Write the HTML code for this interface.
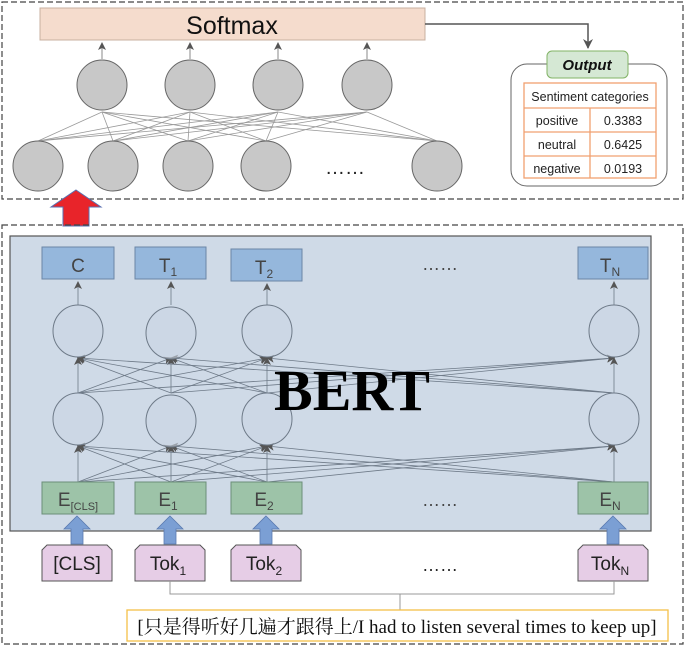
<!DOCTYPE html>
<html><head><meta charset="utf-8"><style>
html,body{margin:0;padding:0;background:#fff}
svg{display:block}
text{font-family:"Liberation Sans","DejaVu Sans",sans-serif}
</style></head><body>
<svg width="685" height="647" viewBox="0 0 685 647" xmlns="http://www.w3.org/2000/svg">
<defs>
<marker id="ah" markerWidth="8" markerHeight="8" refX="7" refY="4" orient="auto" markerUnits="userSpaceOnUse"><path d="M0,0 L8,4 L0,8 L2,4 z" fill="#555"/></marker>
<marker id="ah2" markerWidth="10" markerHeight="10" refX="9" refY="5" orient="auto" markerUnits="userSpaceOnUse"><path d="M0,0 L10,5 L0,10 L3,5 z" fill="#555"/></marker>
</defs>
<!-- top dashed box -->
<rect x="2" y="2" width="681" height="197" fill="none" stroke="#444" stroke-dasharray="6,3" stroke-width="1.2"/>
<rect x="40" y="8" width="385" height="32" fill="#f5dccd" stroke="#c8b0a0"/>
<text x="232" y="34" font-size="25" text-anchor="middle" fill="#111">Softmax</text>
<path d="M425,24 H588 V48" fill="none" stroke="#555" stroke-width="1.5" marker-end="url(#ah2)"/>
<g stroke="#999" stroke-width="0.8">
<line x1="38" y1="141" x2="102" y2="112"/><line x1="38" y1="141" x2="190" y2="112"/><line x1="38" y1="141" x2="278" y2="112"/><line x1="38" y1="141" x2="367" y2="112"/>
<line x1="113" y1="141" x2="102" y2="112"/><line x1="113" y1="141" x2="190" y2="112"/><line x1="113" y1="141" x2="278" y2="112"/><line x1="113" y1="141" x2="367" y2="112"/>
<line x1="188" y1="141" x2="102" y2="112"/><line x1="188" y1="141" x2="190" y2="112"/><line x1="188" y1="141" x2="278" y2="112"/><line x1="188" y1="141" x2="367" y2="112"/>
<line x1="266" y1="141" x2="102" y2="112"/><line x1="266" y1="141" x2="190" y2="112"/><line x1="266" y1="141" x2="278" y2="112"/><line x1="266" y1="141" x2="367" y2="112"/>
<line x1="437" y1="141" x2="102" y2="112"/><line x1="437" y1="141" x2="190" y2="112"/><line x1="437" y1="141" x2="278" y2="112"/><line x1="437" y1="141" x2="367" y2="112"/>
</g>
<g stroke="#888" stroke-width="1" marker-end="url(#ah)">
<line x1="102" y1="59" x2="102" y2="43"/><line x1="190" y1="59" x2="190" y2="43"/><line x1="278" y1="59" x2="278" y2="43"/><line x1="367" y1="59" x2="367" y2="43"/>
</g>
<g fill="#c8c8c8" stroke="#666" stroke-width="1">
<ellipse cx="102" cy="85" rx="25" ry="25"/><ellipse cx="190" cy="85" rx="25" ry="25"/><ellipse cx="278" cy="85" rx="25" ry="25"/><ellipse cx="367" cy="85" rx="25" ry="25"/>
<ellipse cx="38" cy="166" rx="25" ry="25"/><ellipse cx="113" cy="166" rx="25" ry="25"/><ellipse cx="188" cy="166" rx="25" ry="25"/><ellipse cx="266" cy="166" rx="25" ry="25"/><ellipse cx="437" cy="166" rx="25" ry="25"/>
</g>
<text x="345" y="174" font-size="20" text-anchor="middle" fill="#222">……</text>
<!-- output -->
<rect x="511" y="64" width="156" height="122" rx="16" fill="#fff" stroke="#666"/>
<rect x="547" y="51" width="81" height="27" rx="5" fill="#d5e8d4" stroke="#82b366"/>
<text x="587" y="70" font-size="15" font-weight="bold" font-style="italic" text-anchor="middle" fill="#111">Output</text>
<g fill="none" stroke="#f0a070" stroke-width="1.3">
<rect x="524" y="83" width="132" height="95"/>
<line x1="524" y1="108" x2="656" y2="108"/><line x1="524" y1="132" x2="656" y2="132"/><line x1="524" y1="156" x2="656" y2="156"/>
<line x1="590" y1="108" x2="590" y2="178"/>
</g>
<g font-size="12.5" fill="#222" text-anchor="middle">
<text x="590" y="101">Sentiment categories</text>
<text x="557" y="125">positive</text><text x="623" y="125">0.3383</text>
<text x="557" y="149">neutral</text><text x="623" y="149">0.6425</text>
<text x="557" y="173">negative</text><text x="623" y="173">0.0193</text>
</g>
<!-- red arrow -->
<path d="M76,190 L101,207 L89,207 L89,226 L63,226 L63,207 L51,207 z" fill="#e8242a" stroke="#5a6fb0" stroke-width="1"/>
<!-- bottom dashed -->
<rect x="2" y="225" width="681" height="419" fill="none" stroke="#444" stroke-dasharray="6,3" stroke-width="1.2"/>
<rect x="10" y="236" width="641" height="295" fill="#cfdae7" stroke="#555" stroke-width="1.2"/>
<!-- T boxes -->
<g fill="#95b7dc" stroke="#6b86a6">
<rect x="42" y="247" width="72" height="32"/><rect x="135" y="247" width="71" height="32"/><rect x="231" y="249" width="71" height="32"/><rect x="578" y="247" width="70" height="32"/>
</g>
<g font-size="19" fill="#444" text-anchor="middle">
<text x="78" y="272">C</text>
<text x="168" y="272">T<tspan font-size="12" dy="4">1</tspan></text>
<text x="264" y="274">T<tspan font-size="12" dy="4">2</tspan></text>
<text x="610" y="272">T<tspan font-size="12" dy="4">N</tspan></text>
</g>
<text x="440" y="270" font-size="18" text-anchor="middle" fill="#444">……</text>
<!-- connections -->
<g stroke="#6e7a88" stroke-width="0.8" fill="none">
<line x1="78" y1="305" x2="78" y2="282" marker-end="url(#ah)"/><line x1="171" y1="305" x2="171" y2="282" marker-end="url(#ah)"/><line x1="267" y1="305" x2="267" y2="284" marker-end="url(#ah)"/><line x1="614" y1="305" x2="614" y2="282" marker-end="url(#ah)"/>
</g>
<g stroke="#6e7a88" stroke-width="0.8" marker-end="url(#ah)">
<line x1="78" y1="393" x2="78" y2="358"/><line x1="78" y1="393" x2="171" y2="358"/><line x1="78" y1="393" x2="267" y2="358"/><line x1="78" y1="393" x2="614" y2="358"/>
<line x1="171" y1="393" x2="78" y2="358"/><line x1="171" y1="393" x2="171" y2="358"/><line x1="171" y1="393" x2="267" y2="358"/><line x1="171" y1="393" x2="614" y2="358"/>
<line x1="267" y1="393" x2="78" y2="358"/><line x1="267" y1="393" x2="171" y2="358"/><line x1="267" y1="393" x2="267" y2="358"/><line x1="267" y1="393" x2="614" y2="358"/>
<line x1="614" y1="393" x2="78" y2="358"/><line x1="614" y1="393" x2="171" y2="358"/><line x1="614" y1="393" x2="267" y2="358"/><line x1="614" y1="393" x2="614" y2="358"/>
<line x1="78" y1="482" x2="78" y2="446"/><line x1="78" y1="482" x2="171" y2="446"/><line x1="78" y1="482" x2="267" y2="446"/><line x1="78" y1="482" x2="614" y2="446"/>
<line x1="171" y1="482" x2="78" y2="446"/><line x1="171" y1="482" x2="171" y2="446"/><line x1="171" y1="482" x2="267" y2="446"/><line x1="171" y1="482" x2="614" y2="446"/>
<line x1="267" y1="482" x2="78" y2="446"/><line x1="267" y1="482" x2="171" y2="446"/><line x1="267" y1="482" x2="267" y2="446"/><line x1="267" y1="482" x2="614" y2="446"/>
<line x1="614" y1="482" x2="78" y2="446"/><line x1="614" y1="482" x2="171" y2="446"/><line x1="614" y1="482" x2="267" y2="446"/><line x1="614" y1="482" x2="614" y2="446"/>
</g>
<g fill="#cad6e4" fill-opacity="0.6" stroke="#6e7a88" stroke-width="1">
<ellipse cx="78" cy="331" rx="25" ry="26"/><ellipse cx="171" cy="333" rx="25" ry="26"/><ellipse cx="267" cy="331" rx="25" ry="26"/><ellipse cx="614" cy="331" rx="25" ry="26"/>
<ellipse cx="78" cy="419" rx="25" ry="26"/><ellipse cx="171" cy="421" rx="25" ry="26"/><ellipse cx="267" cy="419" rx="25" ry="26"/><ellipse cx="614" cy="419" rx="25" ry="26"/>
</g>
<text x="352" y="410" font-size="58" font-weight="bold" text-anchor="middle" fill="#000" font-family="Liberation Serif, serif" style="font-family:'Liberation Serif',serif">BERT</text>
<!-- E boxes -->
<g fill="#9dc3a8" stroke="#6b8f78">
<rect x="42" y="482" width="72" height="32"/><rect x="135" y="482" width="71" height="32"/><rect x="231" y="482" width="71" height="32"/><rect x="578" y="482" width="70" height="32"/>
</g>
<g font-size="19" fill="#444" text-anchor="middle">
<text x="78" y="506">E<tspan font-size="11" dy="4">[CLS]</tspan></text>
<text x="168" y="506">E<tspan font-size="12" dy="4">1</tspan></text>
<text x="264" y="506">E<tspan font-size="12" dy="4">2</tspan></text>
<text x="610" y="506">E<tspan font-size="12" dy="4">N</tspan></text>
</g>
<text x="440" y="506" font-size="18" text-anchor="middle" fill="#444">……</text>
<!-- blue arrows -->
<g fill="#7b9fd4" stroke="#5a7ab0" stroke-width="0.8">
<path d="M77,516 L90,529 L83,529 L83,544 L71,544 L71,529 L64,529 z"/>
<path d="M170,516 L183,529 L176,529 L176,544 L164,544 L164,529 L157,529 z"/>
<path d="M266,516 L279,529 L272,529 L272,544 L260,544 L260,529 L253,529 z"/>
<path d="M613,516 L626,529 L619,529 L619,544 L607,544 L607,529 L600,529 z"/>
</g>
<!-- tok boxes -->
<g fill="#e6cde6" stroke="#555" stroke-width="1">
<path d="M47,545 H107 L112,550 V581 H42 V550 z"/>
<path d="M140,545 H200 L205,550 V581 H135 V550 z"/>
<path d="M236,545 H296 L301,550 V581 H231 V550 z"/>
<path d="M583,545 H643 L648,550 V581 H578 V550 z"/>
</g>
<g font-size="19" fill="#222" text-anchor="middle">
<text x="77" y="570">[CLS]</text>
<text x="168" y="570">Tok<tspan font-size="12" dy="5">1</tspan></text>
<text x="264" y="570">Tok<tspan font-size="12" dy="5">2</tspan></text>
<text x="610" y="570">Tok<tspan font-size="12" dy="5">N</tspan></text>
</g>
<text x="440" y="571" font-size="18" text-anchor="middle" fill="#222">……</text>
<path d="M170,581 V594 H614 V581 M400,594 V610" fill="none" stroke="#999" stroke-width="1"/>
<rect x="127" y="610" width="541" height="31" fill="#fff" stroke="#f5c048" stroke-width="1.3"/>
<text x="397" y="633" font-size="19" text-anchor="middle" fill="#111" style="font-family:'Liberation Serif','Noto Serif CJK SC',serif">[只是得听好几遍才跟得上/I had to listen several times to keep up]</text>
</svg>
</body></html>
